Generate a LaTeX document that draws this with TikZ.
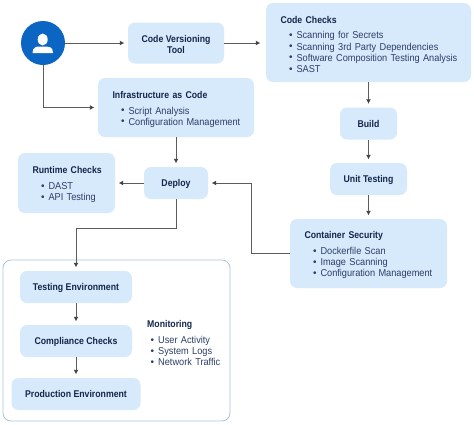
\documentclass[tikz,border=0pt]{standalone}
\usepackage{fontspec}
\setmainfont{Liberation Sans}
\newfontfamily\itemfont[FakeStretch=0.92]{Liberation Sans}
\newfontfamily\titlefont[FakeStretch=0.89]{Liberation Sans Bold}
\usetikzlibrary{arrows.meta}
\definecolor{boxfill}{HTML}{D6EAFC}
\definecolor{titlecol}{HTML}{14264A}
\definecolor{itemcol}{HTML}{2C3E66}
\definecolor{linecol}{HTML}{5C5C5C}
\definecolor{tipcol}{HTML}{404040}
\definecolor{outercol}{HTML}{A9C4D8}
\definecolor{usercol}{HTML}{0A66C2}
\newcommand{\ttl}[1]{\hspace*{14.5pt}\rule{0pt}{10.5pt}{\titlefont\fontsize{9.8}{11.2}\selectfont\color{titlecol}#1}}
\newcommand{\itm}[1]{\hspace*{23pt}\makebox[7.5pt][l]{\color{itemcol}\raisebox{0.3pt}{\fontsize{10}{11.2}\selectfont •}}{\itemfont\fontsize{10}{11.2}\selectfont\color{itemcol}#1}}
\tikzset{
  x=1pt,y=-1pt,
  every node/.style={font=\fontsize{10}{11.2}\selectfont},
  simplebox/.style={fill=boxfill,rounded corners=7pt,align=center,inner sep=0pt,text=titlecol,font=\titlefont\fontsize{9.8}{11.5}\selectfont},
  oneline/.style={text height=7pt,text depth=0pt},
  listbox/.style={fill=boxfill,rounded corners=7pt,align=left,inner sep=0pt},
  conn/.style={draw=linecol,line width=1pt,-{Latex[length=4.5pt,width=5pt,color=tipcol]},shorten >=3.5pt},
}
\begin{document}
\begin{tikzpicture}
\useasboundingbox (0,0) rectangle (474,424);
\fill[white] (0,0) rectangle (474,424);
% outer frame
\node[draw=outercol,fill=white,line width=0.8pt,rounded corners=8pt,minimum width=227pt,minimum height=161pt,inner sep=0pt] (outer) at (116.5,340.5) {};
% user
\node[circle,fill=usercol,minimum size=44pt,inner sep=0pt] (user) at (43,43) {};
\fill[white] (42.7,39.5) ellipse [x radius=5pt,y radius=6pt];
\fill[white] (32.5,53) .. controls (32.5,47) and (37,46.5) .. (39,46.5) -- (46.5,46.5) .. controls (49,46.5) and (53,47) .. (53,53) -- cycle;
% simple boxes
\node[simplebox,minimum width=96pt,minimum height=41pt] (code) at (176,43) {\rule{0pt}{10pt}Code Versioning\\Tool};
\node[simplebox,oneline,minimum width=64pt,minimum height=32pt] (deploy) at (176,183) {Deploy};
\node[simplebox,oneline,minimum width=57pt,minimum height=32pt] (build) at (368.5,123.5) {Build};
\node[simplebox,oneline,minimum width=77pt,minimum height=32pt] (unit) at (368.5,179) {Unit Testing};
\node[simplebox,oneline,minimum width=112pt,minimum height=32pt] (test) at (76,287) {Testing Environment};
\node[simplebox,oneline,minimum width=112pt,minimum height=32pt] (comp) at (76,341) {Compliance Checks};
\node[simplebox,oneline,minimum width=129pt,minimum height=32pt] (prod) at (76,394) {Production Environment};
% list boxes
\node[listbox,text width=156pt,minimum height=59pt] (iac) at (176,107.5) {\ttl{Infrastructure as Code}\\[4.6pt]\itm{Script Analysis}\\\itm{Configuration Management}};
\node[listbox,text width=97pt,minimum height=60pt] (run) at (66.5,183) {\ttl{Runtime Checks}\\[4.6pt]\itm{DAST}\\\itm{API Testing}};
\node[listbox,text width=205pt,minimum height=79pt] (chk) at (368.5,42.5) {\ttl{Code Checks}\\[4.6pt]\itm{Scanning for Secrets}\\\itm{Scanning 3rd Party Dependencies}\\\itm{Software Composition Testing Analysis}\\\itm{SAST}};
\node[listbox,text width=157pt,minimum height=69pt] (cont) at (368.5,253.5) {\ttl{Container Security}\\[4.6pt]\itm{Dockerfile Scan}\\\itm{Image Scanning}\\\itm{Configuration Management}};
\node[align=left,anchor=west,inner sep=0pt,text width=100pt] (mon) at (132.5,341.5) {\ttl{Monitoring}\\[4.6pt]\hspace*{-5pt}\itm{User Activity}\\\hspace*{-5pt}\itm{System Logs}\\\hspace*{-5pt}\itm{Network Traffic}};
% connectors
\draw[conn] (user.east) -- (code.west);
\draw[conn,shorten >=5.5pt] (code.east) -- (chk.west |- code.east);
\draw[conn] (user.south) |- (iac.west);
\draw[conn] (iac.south -| deploy.north) -- (deploy.north);
\draw[conn] (deploy.west) -- (run.east);
\draw[conn] (cont.west) -- ++(-38,0) |- (deploy.east);
\draw[conn] (deploy.south) -- ++(0,29) -| (test.north);
\draw[conn] (chk.south -| build.north) -- (build.north);
\draw[conn] (build.south) -- (unit.north);
\draw[conn] (unit.south) -- (cont.north);
\draw[conn] (test.south) -- (comp.north);
\draw[conn] (comp.south) -- (prod.north);
\end{tikzpicture}
\end{document}
